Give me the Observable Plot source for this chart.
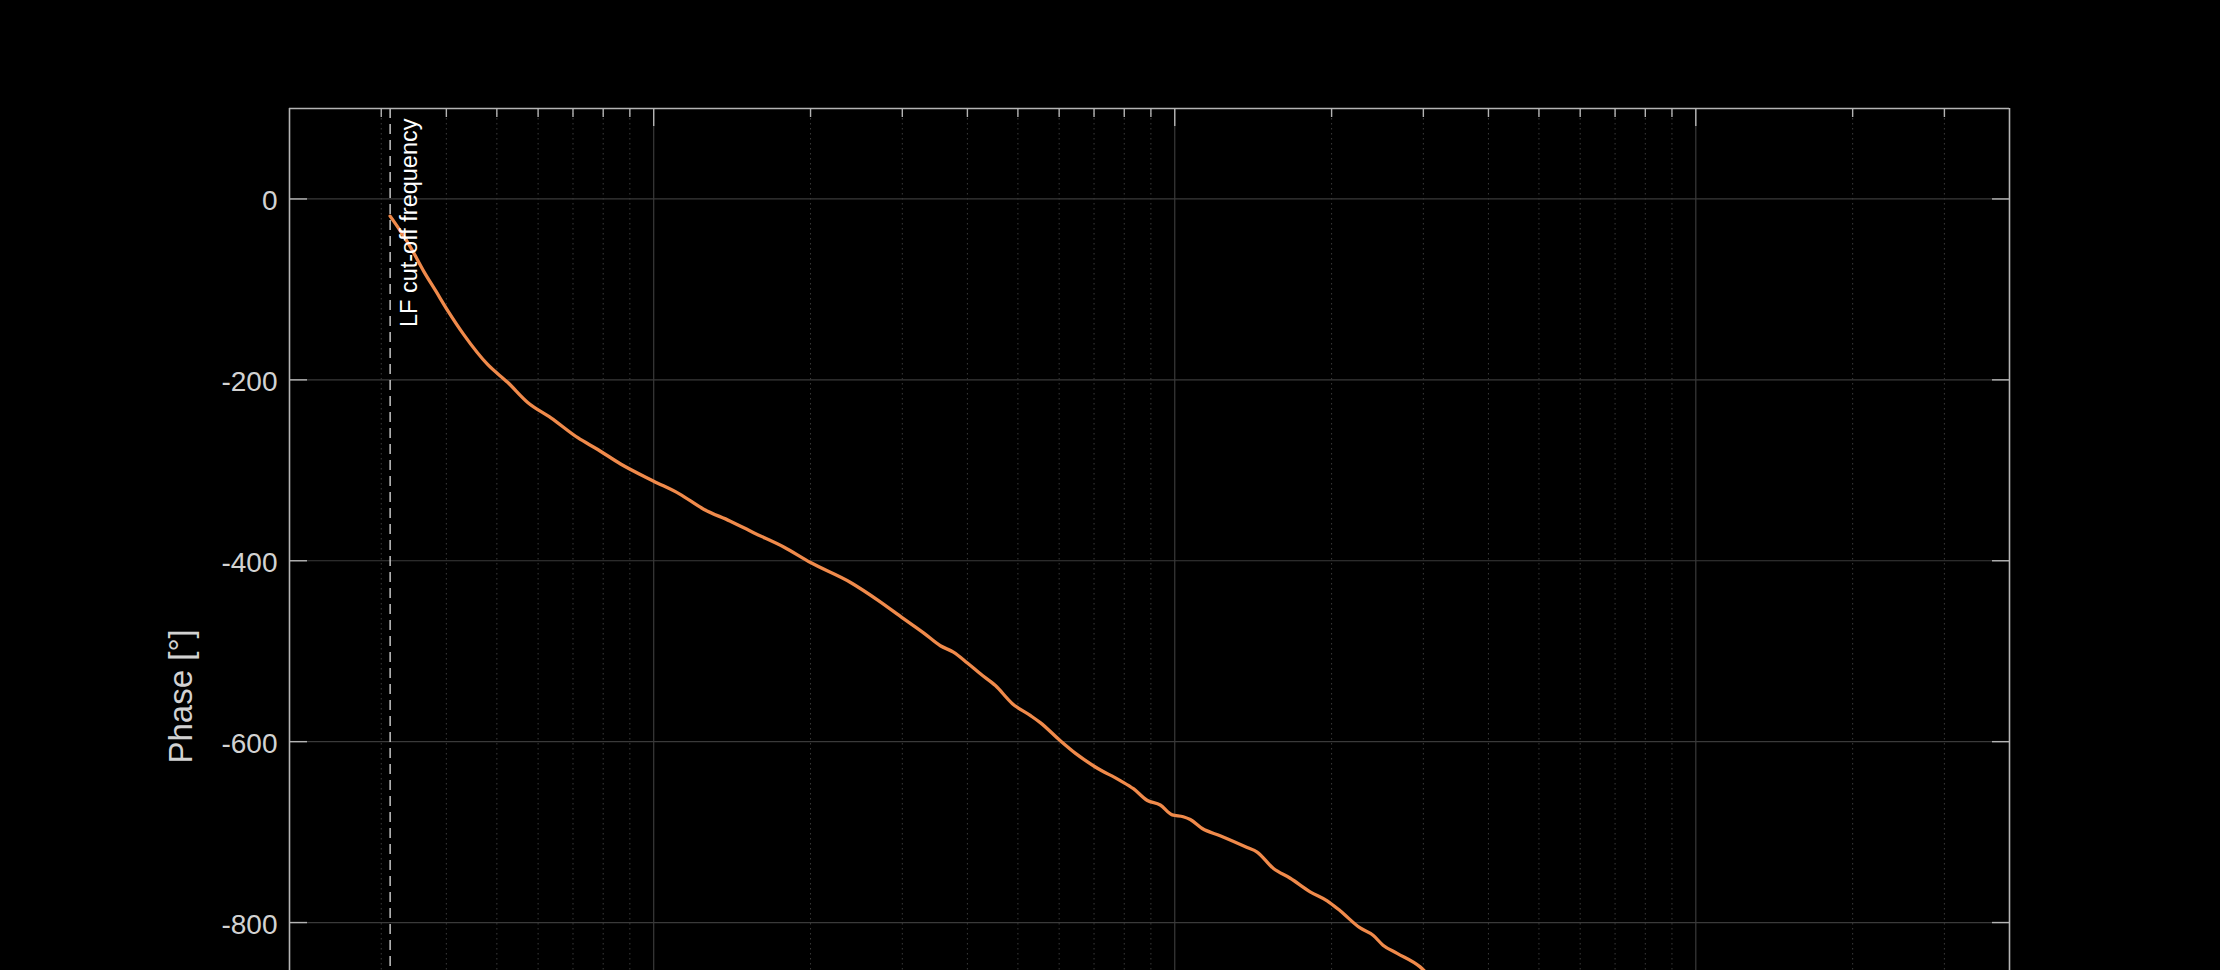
<!DOCTYPE html>
<html>
<head>
<meta charset="utf-8">
<script src="https://cdn.jsdelivr.net/npm/d3@7"></script>
<script src="https://cdn.jsdelivr.net/npm/@observablehq/plot@0.6"></script>
<style>
  html, body { margin: 0; padding: 0; background: #000; overflow: hidden; }
  #chart { width: 2220px; height: 970px; }
</style>
</head>
<body>
<div id="chart"></div>
<script>
// ---- data ----
const freqHz = [31.2, 32.7, 34.2, 36.2, 38.2, 40.3, 43.2, 48.0, 52.5, 57.3, 63.5, 71.5, 78.1, 86.4,
  100, 112, 124.7, 140, 155.5, 178, 200, 238.7, 270, 301.6, 330, 355, 376, 400, 423.6, 452.7,
  488, 528, 552, 603, 645, 704, 786, 833, 886, 938, 989, 1038, 1071, 1129, 1222, 1377, 1439,
  1545, 1666, 1819, 1961, 2077, 2269, 2402, 2510, 2672, 2957, 3300];
const phaseDeg = [-19, -36, -54, -80, -102, -124, -150, -183, -203, -225, -242, -264, -277, -293,
  -312, -326, -343, -356, -369, -385, -402, -424, -444, -464, -480, -494, -501, -513, -525, -538,
  -558, -571, -579, -599, -613, -628, -643, -652, -665, -670, -681, -683, -686, -696, -704, -717, -722,
  -740, -751, -766, -776, -787, -806, -814, -825, -834, -849, -880];
const cutoffHz = [31.2];
const cutoffLabel = "LF cut-off frequency";
const yTicks = [0, -200, -400, -600, -800];
const yTickLabels = ["0", "-200", "-400", "-600", "-800"];
const xMajorTicks = [100, 1000, 10000];
const xMinorTicks = [30, 40, 50, 60, 70, 80, 90, 200, 300, 400, 500, 600, 700, 800, 900,
  2000, 3000, 4000, 5000, 6000, 7000, 8000, 9000, 20000, 30000];
const xDomain = [20, 40000];
const yDomain = [-853, 100];
const yLabel = "Phase [°]";

const series = freqHz.map((f, i) => ({f, p: phaseDeg[i]}));
const frameColor = "#b4b4b4";
const textColor = "#d2d2d2";
const gridColor = "#3a3a3a";

const chart = Plot.plot({
  width: 2220,
  height: 970,
  marginLeft: 289,
  marginRight: 211,
  marginTop: 108,
  marginBottom: 0,
  style: {background: "#000", color: textColor, fontFamily: "'Liberation Sans', Arial, sans-serif"},
  x: {type: "log", domain: xDomain},
  y: {domain: yDomain},
  marks: [
    // grid
    Plot.ruleX(xMinorTicks, {stroke: gridColor, strokeWidth: 1, strokeDasharray: "1.5,3.5"}),
    Plot.ruleX(xMajorTicks, {stroke: gridColor, strokeWidth: 1.2}),
    Plot.ruleY(yTicks, {stroke: gridColor, strokeWidth: 1.2}),
    // cut-off marker
    Plot.ruleX(cutoffHz, {stroke: textColor, strokeWidth: 1.4, strokeDasharray: "10,6"}),
    // data
    Plot.line(series, {x: "f", y: "p", stroke: "#f08a4b", strokeWidth: 3.3, clip: true, curve: "monotone-x"}),
    // frame (top, left, right)
    Plot.ruleY([yDomain[1]], {stroke: frameColor, strokeWidth: 1.6}),
    Plot.ruleX(xDomain, {stroke: frameColor, strokeWidth: 1.6}),
    // inward ticks
    Plot.axisX(xMinorTicks, {anchor: "top", tickSize: -8, fill: null, label: null, stroke: frameColor, strokeWidth: 1.4}),
    Plot.axisX(xMajorTicks, {anchor: "top", tickSize: -17, fill: null, label: null, stroke: frameColor, strokeWidth: 1.4}),
    Plot.axisY(yTicks, {anchor: "left", tickSize: -18, fill: null, label: null, stroke: frameColor, strokeWidth: 1.4}),
    Plot.axisY(yTicks, {anchor: "right", tickSize: -18, fill: null, label: null, stroke: frameColor, strokeWidth: 1.4}),
    // tick labels
    Plot.axisY(yTicks, {anchor: "left", tickSize: 0, tickPadding: 12, stroke: null, label: null,
      tickFormat: (d) => yTickLabels[yTicks.indexOf(d)], fontSize: 28, fill: textColor, dy: 2}),
    // axis label
    Plot.text([yLabel], {frameAnchor: "left", text: (d) => d, rotate: -90, dx: -108, dy: 224,
      fontSize: 33, fill: textColor}),
    // cut-off label
    Plot.text(cutoffHz, {x: (d) => d, frameAnchor: "top", text: () => cutoffLabel, rotate: -90,
      textAnchor: "end", dx: 10, dy: 10, fontSize: 23.5, fill: "#ffffff"})
  ]
});
document.getElementById("chart").appendChild(chart);
</script>
</body>
</html>
